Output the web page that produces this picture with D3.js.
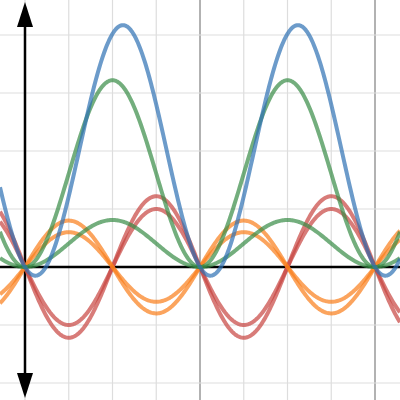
<!DOCTYPE html>
<html><head><meta charset="utf-8">
<script src="https://cdn.jsdelivr.net/npm/d3@7"></script>
<style>body{margin:0;background:#fff}</style>
</head><body>
<script>
// curves: a*(1-cos(pi x/2)) + b*sin(pi x/2)
var names = ["red1", "red2", "orange1", "orange2", "green1", "green2", "blue"]
var cosAmp = [0, 0, 0, 0, 1.61, 0.405, 2.01]
var sinAmp = [-1.0, -1.22, 0.6, 0.8, 0, 0, -0.79]
var colors = ["#c74440", "#c74440", "#fa7e19", "#fa7e19", "#388c46", "#388c46", "#2d70b3"]
var xGrid = [-1, 0, 1, 2, 3, 4, 5, 6, 7, 8]
var yGrid = [-2, -1, 0, 1, 2, 3, 4]

var W = 400, H = 400
var x = d3.scaleLinear().domain([-0.5714, 8.5714]).range([0, W])
var y = d3.scaleLinear().domain([4.603, -2.293]).range([0, H])

var svg = d3.select("body").append("svg").attr("width", W).attr("height", H)

svg.selectAll(".vg").data(xGrid).enter().append("line")
	.attr("x1", x).attr("x2", x).attr("y1", 0).attr("y2", H)
	.attr("stroke", function(d){ return d % 4 == 0 && d != 0 ? "#999" : "#ddd" })
	.attr("stroke-width", function(d){ return d % 4 == 0 && d != 0 ? 1.5 : 1.2 })
svg.selectAll(".hg").data(yGrid).enter().append("line")
	.attr("y1", y).attr("y2", y).attr("x1", 0).attr("x2", W)
	.attr("stroke", "#ddd").attr("stroke-width", 1.2)

// axes
svg.append("line").attr("x1", 0).attr("x2", W).attr("y1", y(0)).attr("y2", y(0))
	.attr("stroke", "#000").attr("stroke-width", 2.5)
svg.append("line").attr("x1", x(0)).attr("x2", x(0)).attr("y1", 15).attr("y2", H - 15)
	.attr("stroke", "#000").attr("stroke-width", 2.5)
var ax = x(0)
svg.append("path").attr("d", "M" + ax + " 2 L" + (ax - 8) + " 27 L" + (ax + 8) + " 27 Z")
svg.append("path").attr("d", "M" + ax + " 398 L" + (ax - 8) + " 373 L" + (ax + 8) + " 373 Z")

var xs = d3.range(0, 401).map(function(i){ return x.invert(i) })
var line = d3.line().x(function(d){ return x(d[0]) }).y(function(d){ return y(d[1]) })

names.forEach(function(n, k) {
	var pts = xs.map(function(v) {
		var t = Math.PI * v / 2
		return [v, cosAmp[k] * (1 - Math.cos(t)) + sinAmp[k] * Math.sin(t)]
	})
	svg.append("path").attr("class", n).attr("d", line(pts))
		.attr("fill", "none").attr("stroke", colors[k]).attr("stroke-width", 4)
		.attr("stroke-opacity", 0.7).attr("stroke-linejoin", "round")
})
</script>
</body></html>
